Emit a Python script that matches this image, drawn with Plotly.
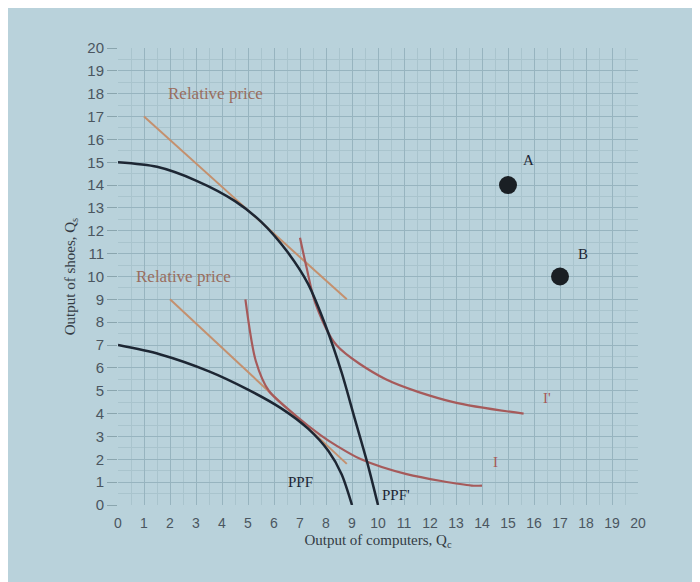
import plotly.graph_objects as go

# values (Q_c, Q_s)
ppf_x = [0, 1.6, 3.5, 5.0, 6.25, 7.3, 8.1, 8.6, 9.0]
ppf_y = [7, 6.6, 5.85, 5.05, 4.25, 3.35, 2.35, 1.35, 0]

ppf2_x = [0, 1.5, 3.0, 4.5, 5.5, 6.5, 7.3, 8.0, 8.6, 9.1, 9.6, 10]
ppf2_y = [15, 14.8, 14.2, 13.3, 12.4, 11.1, 9.7, 7.8, 5.8, 3.8, 1.8, 0]

price_hi_x = [1, 8.8]
price_hi_y = [17, 9]
price_lo_x = [2, 8.8]
price_lo_y = [9, 1.8]

ic_x = [4.9, 5.3, 5.8, 6.8, 7.8, 8.4, 9.35, 11.1, 13.6, 14.0]
ic_y = [9, 6.3, 5.0, 3.95, 3.05, 2.6, 2.0, 1.35, 0.85, 0.85]

ic2_x = [7.0, 7.25, 7.6, 8.4, 10.3, 12.9, 15.6]
ic2_y = [11.7, 10.4, 8.8, 7.0, 5.5, 4.5, 4.0]

pts_x = [15, 17]
pts_y = [14, 10]

bg = "#b9d2db"
ink = "#1d2633"
tan = "#c4906e"
red = "#a65a5a"
serif = "Liberation Serif, Times New Roman, serif"

fig = go.Figure()
fig.add_trace(go.Scatter(x=price_hi_x, y=price_hi_y, mode="lines", line=dict(color=tan, width=2)))
fig.add_trace(go.Scatter(x=price_lo_x, y=price_lo_y, mode="lines", line=dict(color=tan, width=2)))
fig.add_trace(go.Scatter(x=ic_x, y=ic_y, mode="lines",
                         line=dict(color=red, width=2.2, shape="spline", smoothing=0.8)))
fig.add_trace(go.Scatter(x=ic2_x, y=ic2_y, mode="lines",
                         line=dict(color=red, width=2.2, shape="spline", smoothing=0.8)))
fig.add_trace(go.Scatter(x=ppf_x, y=ppf_y, mode="lines",
                         line=dict(color=ink, width=2.5, shape="spline", smoothing=0.8)))
fig.add_trace(go.Scatter(x=ppf2_x, y=ppf2_y, mode="lines",
                         line=dict(color=ink, width=2.5, shape="spline", smoothing=0.8)))
fig.add_trace(go.Scatter(x=pts_x, y=pts_y, mode="markers", marker=dict(color="#1a1f24", size=18)))

def label(x, y, text, color=ink, size=15):
    fig.add_annotation(x=x, y=y, text=text, showarrow=False,
                       font=dict(family=serif, size=size, color=color))

label(15.8, 15.1, "A")
label(17.9, 11.0, "B")
label(16.5, 4.7, "I'", red)
label(14.5, 1.9, "I", red)
label(7.0, 1.0, "PPF")
label(10.7, 0.45, "PPF'")
label(3.75, 18.0, "Relative price", "#9a6e5e", 17)
label(2.5, 10.0, "Relative price", "#9a6e5e", 17)

grid = "#97b4bf"
axis_common = dict(range=[0, 20], dtick=1, showgrid=True, gridcolor=grid, gridwidth=1,
                   zeroline=False, showline=False,
                   minor=dict(dtick=0.5, showgrid=True, gridcolor="#a9c4cd", gridwidth=1),
                   tickfont=dict(family="Liberation Sans, Arial, sans-serif", size=14, color="#4b5660"))

fig.update_xaxes(**axis_common, ticks="", ticklabelstandoff=8,
                 title=dict(text="Output of computers, Q<sub>c</sub>",
                            font=dict(family=serif, size=15, color="#333b44"), standoff=4))
fig.update_yaxes(**axis_common, ticks="outside", ticklen=10, tickcolor="#8aa5ae",
                 tickfont_size=15,
                 title=dict(text="Output of shoes, Q<sub>s</sub>",
                            font=dict(family=serif, size=15, color="#333b44"), standoff=8))

fig.update_layout(
    width=700, height=582,
    margin=dict(l=110, r=70, t=40, b=85),
    paper_bgcolor=bg, plot_bgcolor=bg,
    showlegend=False,
)

fig.write_html("out.html")
